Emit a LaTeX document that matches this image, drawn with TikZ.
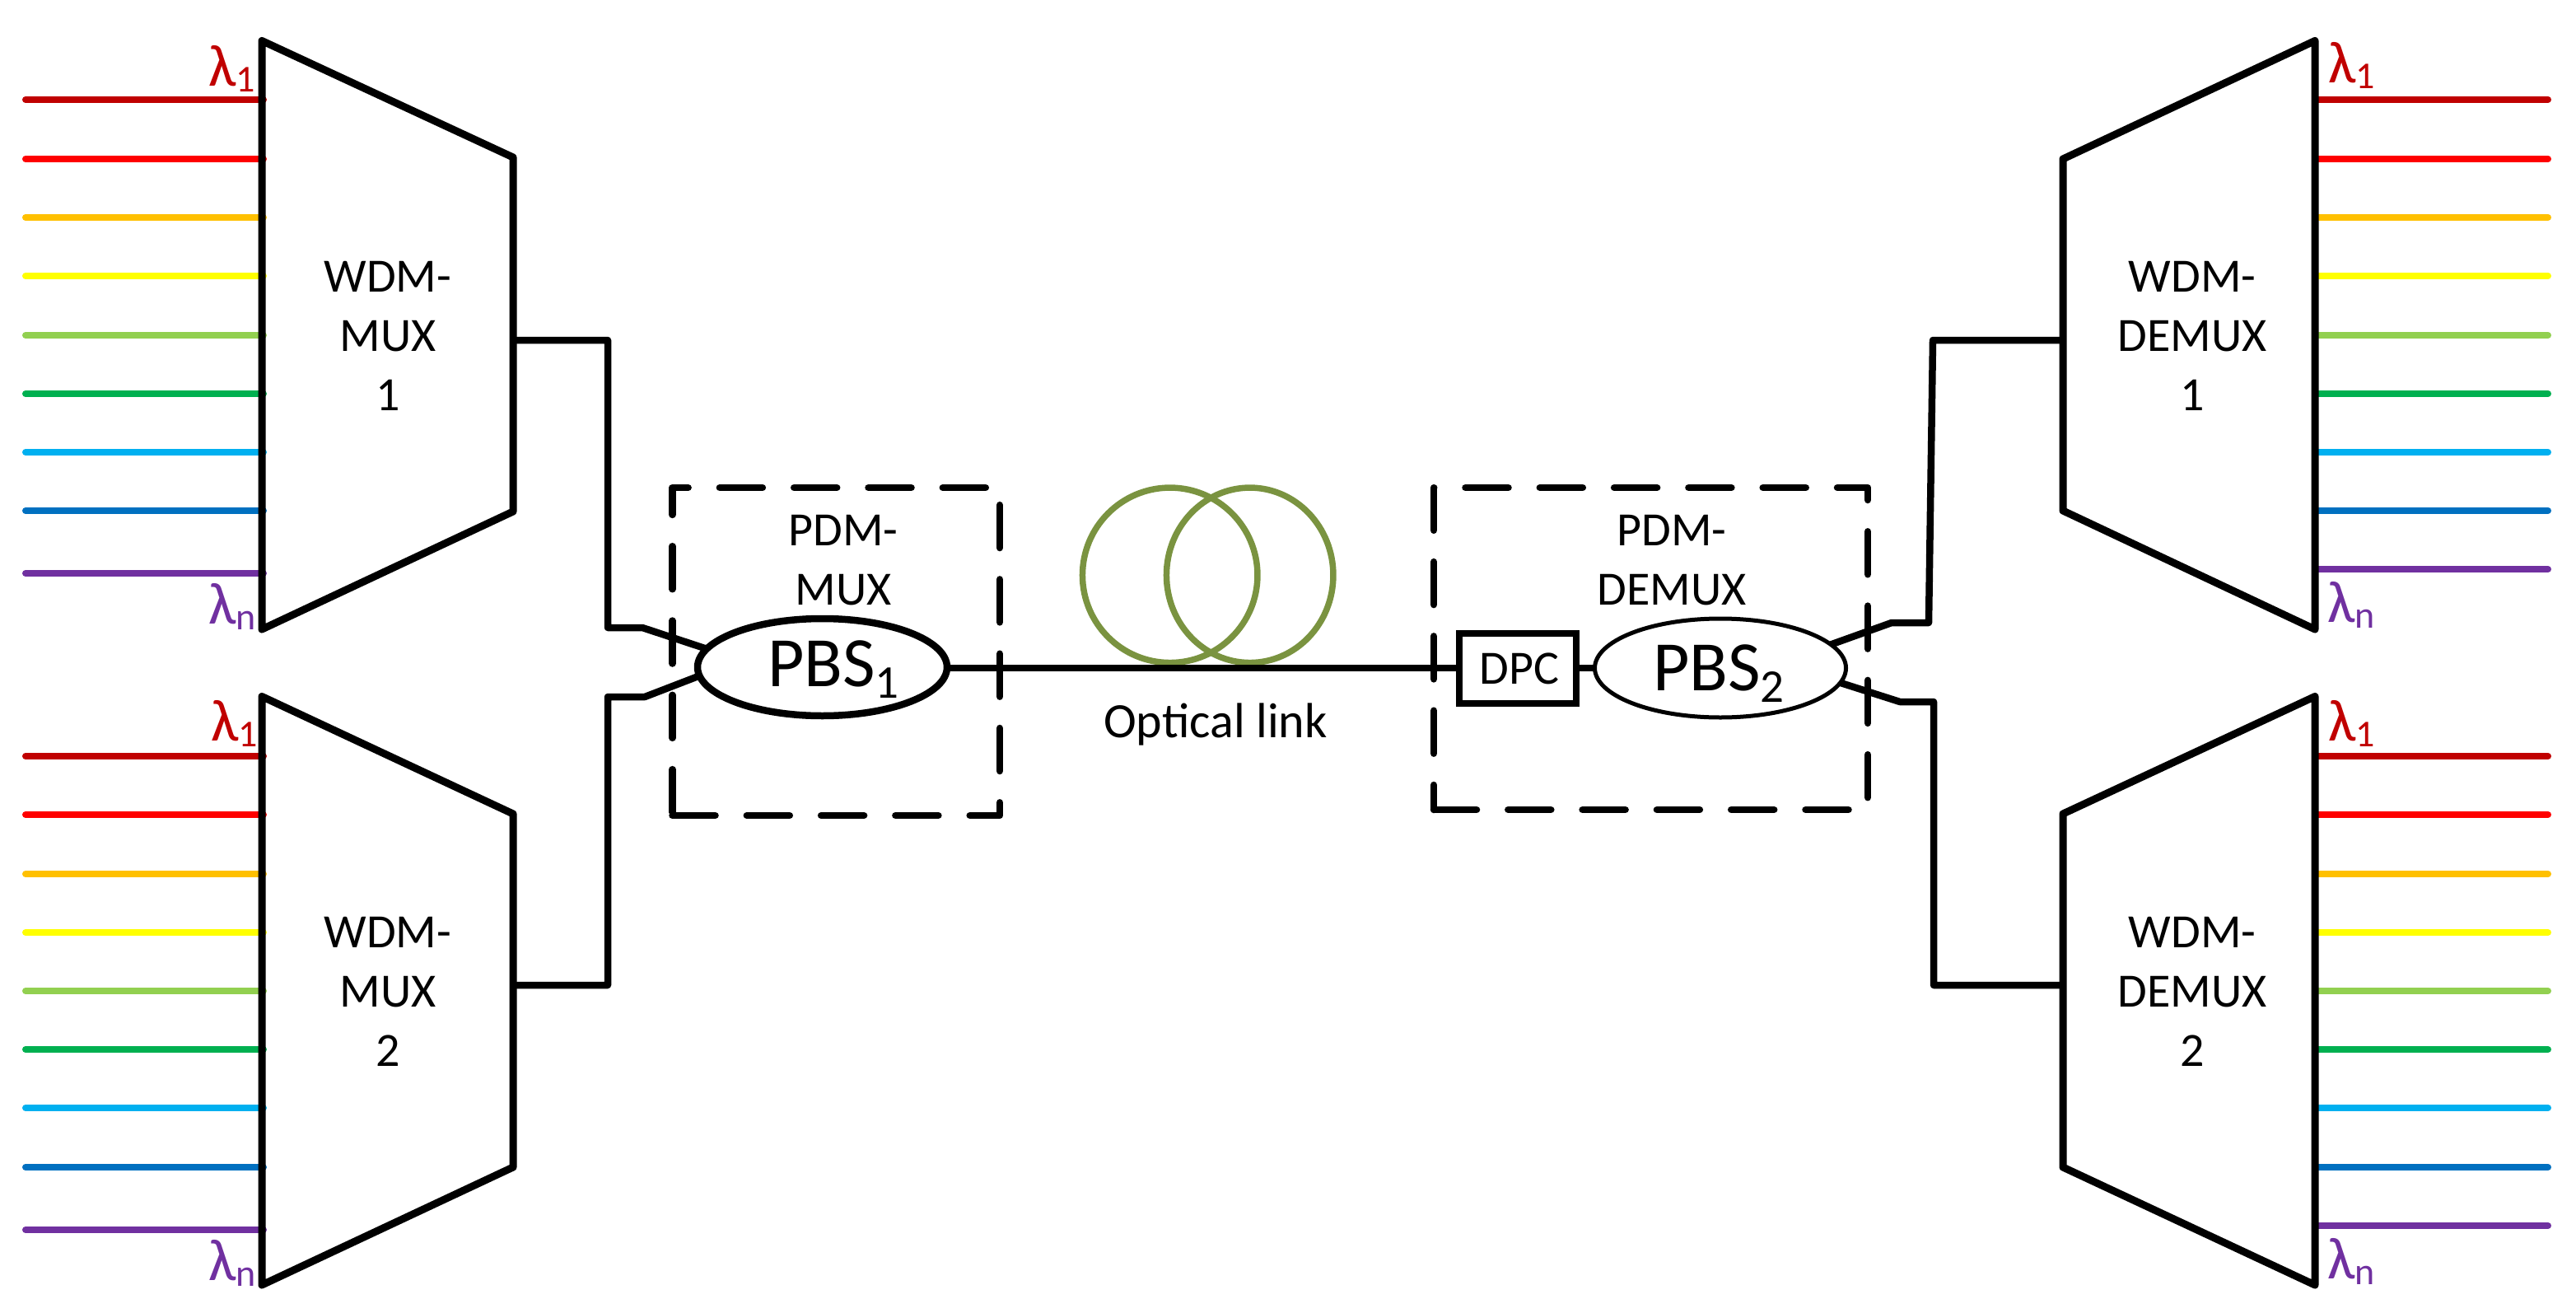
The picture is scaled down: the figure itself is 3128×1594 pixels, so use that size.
\documentclass[tikz,border=0pt]{standalone}
\usepackage{fontspec}
\setmainfont{Carlito}
\usetikzlibrary{shapes.geometric}
\definecolor{lc1}{HTML}{C00000}
\definecolor{lc2}{HTML}{FF0000}
\definecolor{lc3}{HTML}{FFC000}
\definecolor{lc4}{HTML}{FFFF00}
\definecolor{lc5}{HTML}{92D050}
\definecolor{lc6}{HTML}{00B050}
\definecolor{lc7}{HTML}{00B0F0}
\definecolor{lc8}{HTML}{0070C0}
\definecolor{lc9}{HTML}{7030A0}
\definecolor{fibre}{HTML}{7A9340}
\newcommand{\lamlab}[1]{\fontsize{72}{72}\selectfont λ\raisebox{-7pt}{\fontsize{46}{46}\selectfont #1}}
\newcommand{\pbslab}[1]{\fontsize{86}{86}\selectfont PBS\raisebox{-14pt}{\fontsize{57}{57}\selectfont #1}}
\tikzset{
  x=1pt,y=-1pt,
  channel/.style={line width=8pt,line cap=round},
  block/.style={line width=9pt,line join=round},
  wire/.style={line width=8.5pt,line join=round},
  group/.style={line width=8.5pt,line cap=round,line join=round,dash pattern=on 52pt off 38.3pt},
  coil/.style={ellipse,draw=fibre,line width=7.5pt,minimum height=212.5pt,inner sep=0pt,outer sep=0pt},
  txt/.style={font=\fontsize{58}{72}\selectfont,align=center,inner sep=0pt,outer sep=0pt},
  lab/.style={inner sep=0pt,outer sep=0pt,anchor=base west},
  pbs/.style={ellipse,draw,fill=white,inner sep=0pt,outer sep=0pt},
}
\begin{document}
\begin{tikzpicture}
\useasboundingbox (0,0) rectangle (3128,1594);
% coils
\node[coil,minimum width=212.5pt] (coilA) at (1420.7,698.3) {};
\node[coil,minimum width=202.5pt] (coilB) at (1517.7,698.3) {};
% channels, left
\foreach \yy/\cc in {121/lc1,193/lc2,264/lc3,335/lc4,407/lc5,478/lc6,549/lc7,620/lc8,696/lc9}{
  \draw[channel,\cc] (31,\yy) -- (320,\yy);}
\foreach \yy/\cc in {918/lc1,989/lc2,1061/lc3,1132/lc4,1203/lc5,1274/lc6,1345/lc7,1417/lc8,1493/lc9}{
  \draw[channel,\cc] (31,\yy) -- (320,\yy);}
% channels, right
\foreach \yy/\cc in {121/lc1,193/lc2,264/lc3,335/lc4,407/lc5,478/lc6,549/lc7,620/lc8,691/lc9}{
  \draw[channel,\cc] (3094,\yy) -- (2811,\yy);}
\foreach \yy/\cc in {918/lc1,989/lc2,1061/lc3,1132/lc4,1203/lc5,1274/lc6,1345/lc7,1417/lc8,1488/lc9}{
  \draw[channel,\cc] (3094,\yy) -- (2811,\yy);}
% trapezoids
\draw[block] (318,49.5) -- (623,191) -- (623,621) -- (318,764) -- cycle;
\draw[block] (318,845.5) -- (623,988) -- (623,1417) -- (318,1560) -- cycle;
\draw[block] (2811,49.5) -- (2505,193) -- (2505,620) -- (2811,764) -- cycle;
\draw[block] (2811,845.5) -- (2505,988) -- (2505,1417) -- (2811,1560) -- cycle;
% named ports
\coordinate (m1out) at (623,413);
\coordinate (m2out) at (623,1196);
\coordinate (d1in) at (2505,413);
\coordinate (d2in) at (2505,1196);
% group boxes
\draw[group] (816.5,990) -- (1214,990) -- (1214,592) -- (816.5,592) -- cycle;
\draw[group] (1741,983) -- (2268,983) -- (2268,592) -- (1741,592) -- cycle;
% elements
\node[pbs,line width=8.5pt,minimum width=303pt,minimum height=118pt] (pbsA) at (998.5,810) {};
\node[pbs,line width=5pt,minimum width=305pt,minimum height=120pt] (pbsB) at (2089,811) {};
\node[draw,line width=8pt,fill=white,minimum width=142pt,minimum height=85pt,inner sep=0pt,outer sep=0pt] (dpc) at (1843,811) {};
% connectors
\draw[wire] (pbsA.east |- dpc.west) -- (dpc.west);
\draw[wire] (dpc.east) -- (pbsB.west);
\draw[wire] (m1out) -- (738,413) -- (738,762) -- (780,762) -- (pbsA.171.5);
\draw[wire] (m2out) -- (738,1196) -- (738,846) -- (783,846) -- (pbsA.184);
\draw[wire] (d1in) -- (2347,413) -- (2342,756) -- (2297,756) -- (pbsB.12);
\draw[wire] (d2in) -- (2348,1196) -- (2348,852) -- (2307,852) -- (pbsB.-7);
% texts
\node[txt] (t1) at (471,408) {WDM-\\MUX\\1};
\node[txt] (t2) at (471,1204) {WDM-\\MUX\\2};
\node[txt] (t3) at (2662,408) {WDM-\\DEMUX\\1};
\node[txt] (t4) at (2662,1204) {WDM-\\DEMUX\\2};
\node[txt] (t5) at (1024,680) {PDM-\\MUX};
\node[txt] (t6) at (2030,680) {PDM-\\DEMUX};
\node[inner sep=0pt,anchor=base,font=\fontsize{60}{60}\selectfont] (t7) at (1476,895) {Optical link};
\node[inner sep=0pt,anchor=base,font=\fontsize{58}{58}\selectfont] (t8) at (1845,830) {DPC};
\node[lab] (p1) at (932,833) {\pbslab{1}};
\node[lab] (p2) at (2007,838) {\pbslab{2}};
% wavelength labels
\node[lab,lc1] (l1) at (253,104.5) {\lamlab{1}};
\node[lab,lc9] (l2) at (253,757.5) {\lamlab{n}};
\node[lab,lc1] (l3) at (256,899) {\lamlab{1}};
\node[lab,lc9] (l4) at (253,1554) {\lamlab{n}};
\node[lab,lc1] (l5) at (2827,100.5) {\lamlab{1}};
\node[lab,lc9] (l6) at (2826,755) {\lamlab{n}};
\node[lab,lc1] (l7) at (2827,899) {\lamlab{1}};
\node[lab,lc9] (l8) at (2826,1552) {\lamlab{n}};
\end{tikzpicture}
\end{document}
